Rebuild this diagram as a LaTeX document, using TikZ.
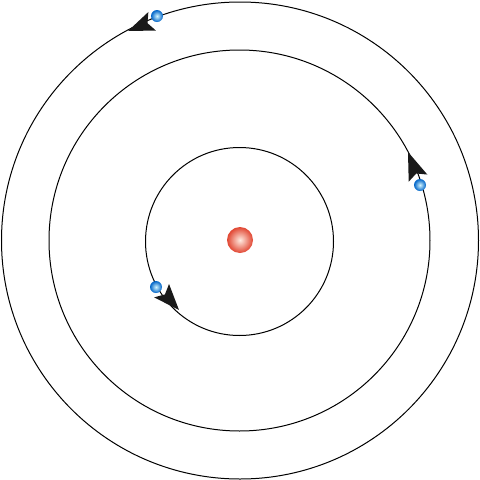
\documentclass[tikz,border=0pt]{standalone}
\begin{document}
\begin{tikzpicture}[x=1pt,y=-1pt]
\definecolor{nucout}{RGB}{225,70,50}
\definecolor{nucin}{RGB}{255,235,225}
\definecolor{elout}{RGB}{0,100,200}
\definecolor{elin}{RGB}{210,245,255}
\tikzset{
  orbit/.style={circle, draw=black, line width=1pt, inner sep=0pt},
  electron/.style={circle, inner sep=0pt, minimum size=12pt, inner color=elin, outer color=elout, shade},
  nucleusball/.style={circle, inner sep=0pt, minimum size=26pt, inner color=nucin, outer color=nucout, shade},
  headfill/.style={fill=black!90}
}
\useasboundingbox (0,0) rectangle (480,480);
% orbits
\node[orbit, minimum size=477pt] (outer) at (240,240.5) {};
\node[orbit, minimum size=381pt] (middle) at (239.5,240.5) {};
\node[orbit, minimum size=188pt] (inner) at (239.5,241.5) {};
% nucleus
\node[nucleusball] (nucleus) at (240,240) {};
% arrowheads
\fill[headfill, shift={(128,31)}, rotate=202] (0,0) -- (-26,10) -- (-21,0) -- (-26,-10) -- cycle;
\fill[headfill, shift={(408,152)}, rotate=111] (0,0) -- (-28,10) -- (-23,0) -- (-28,-10) -- cycle;
\fill[headfill, shift={(179,310)}, rotate=312] (0,0) -- (-26,10) -- (-21,0) -- (-26,-10) -- cycle;
% electrons
\node[electron] (e1) at (157,16) {};
\node[electron] (e2) at (420,185) {};
\node[electron] (e3) at (156,287) {};
\end{tikzpicture}
\end{document}
